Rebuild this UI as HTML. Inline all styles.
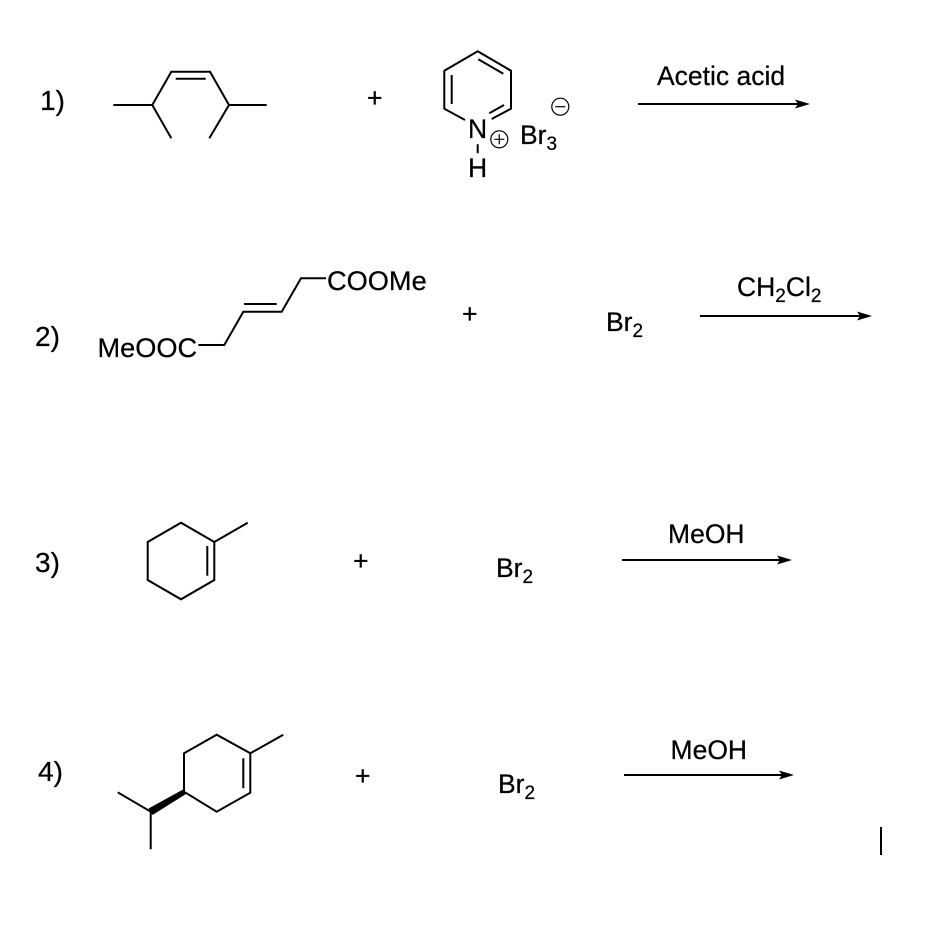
<!DOCTYPE html>
<html>
<head>
<meta charset="utf-8">
<style>
html,body{margin:0;padding:0;background:#fff;width:944px;height:938px;overflow:hidden}
svg{display:block}
text{font-family:"Liberation Sans",Arial,sans-serif;font-size:26.5px;fill:#000;stroke:#000;stroke-width:.25px}
text.w{font-size:27.2px}
text.n{font-size:28px}
tspan.s{font-size:19px}
.b{fill:none;stroke:#000;stroke-width:2;stroke-linejoin:miter;stroke-linecap:butt}
</style>
</head>
<body>
<svg width="944" height="938" viewBox="0 0 944 938" xmlns="http://www.w3.org/2000/svg">
<rect width="944" height="938" fill="#fff"/>

<!-- Row labels -->
<text class="n" x="40" y="110">1)</text>
<text class="n" x="35" y="346">2)</text>
<text class="n" x="35" y="572">3)</text>
<text class="n" x="38" y="781">4)</text>

<!-- Molecule 1 -->
<path class="b" d="M113.3 105H152.3L171.3 71.7H210L229 105H266.7M152.3 105L171.3 138.3M229 105L209.3 138.3M175.7 78.7H205.7"/>
<text x="367" y="107">+</text>

<!-- Pyridinium -->
<path class="b" d="M465 120L444.3 108.7V70.7L477.7 51.3L511 70.7V108.7L491.7 119M451.7 75V104M478.3 59.3L503.3 73.7M489.3 113.3L504 105M477.7 144.3V153.3"/>
<text x="468" y="138">N</text>
<text x="468" y="177">H</text>
<circle cx="499.3" cy="139.3" r="8.5" fill="none" stroke="#000" stroke-width="1.2"/>
<path d="M494.3 139.3H504.3M499.3 134.3V144.3" stroke="#000" stroke-width="1.2" fill="none"/>
<text x="520" y="144">Br<tspan class="s" dy="6">3</tspan></text>
<circle cx="560.3" cy="106.7" r="8.5" fill="none" stroke="#000" stroke-width="1.2"/>
<path d="M555.3 106.7H565.3" stroke="#000" stroke-width="1.2" fill="none"/>

<!-- Arrow 1 -->
<text x="657" y="85">Acetic acid</text>
<path class="b" d="M638 104H798"/>
<path d="M810 104L795 99.5L798 104L795 108.5Z"/>

<!-- Molecule 2 -->
<path class="b" d="M198.3 345H224.3L243.3 311.7H281.7L301 278.3H326M244 304H276.7"/>
<text class="w" x="327" y="290">COOMe</text>
<text class="w" x="97.5" y="357">MeOOC</text>
<text x="462" y="323">+</text>
<text x="606" y="331">Br<tspan class="s" dy="6">2</tspan></text>
<text x="737" y="296">CH<tspan class="s" dy="6">2</tspan><tspan dy="-6">Cl</tspan><tspan class="s" dy="6">2</tspan></text>
<path class="b" d="M700 316H860"/>
<path d="M872 316L857 311.5L860 316L857 320.5Z"/>

<!-- Molecule 3 -->
<path class="b" d="M214.3 542L181 522.7L147.7 542V580L181 599.3L214.3 580ZM214.3 542L247.7 522.7M207.3 546V575.7"/>
<text x="353" y="570">+</text>
<text x="496" y="577">Br<tspan class="s" dy="6">2</tspan></text>
<text x="668" y="543">MeOH</text>
<path class="b" d="M622 560H780"/>
<path d="M792 560L777 555.5L780 560L777 564.5Z"/>

<!-- Molecule 4 -->
<path class="b" d="M250.3 753.3L216.7 734.7L184 753.3V791.7L216.7 811.7L250.3 792.7ZM250.3 753.3L283.3 734.7M243.3 758.3V788.3M117.7 792.3L150.7 811.7V849.3"/>
<path d="M183 789.5L186 794L152.5 815L148.5 808.5Z" fill="#000"/>
<text x="355" y="785">+</text>
<text x="498" y="793">Br<tspan class="s" dy="6">2</tspan></text>
<text x="670.5" y="759">MeOH</text>
<path class="b" d="M624 775H782"/>
<path d="M794 775L779 770.5L782 775L779 779.5Z"/>

<!-- Cursor -->
<path d="M881 827V855" stroke="#000" stroke-width="2" fill="none"/>
</svg>
</body>
</html>
